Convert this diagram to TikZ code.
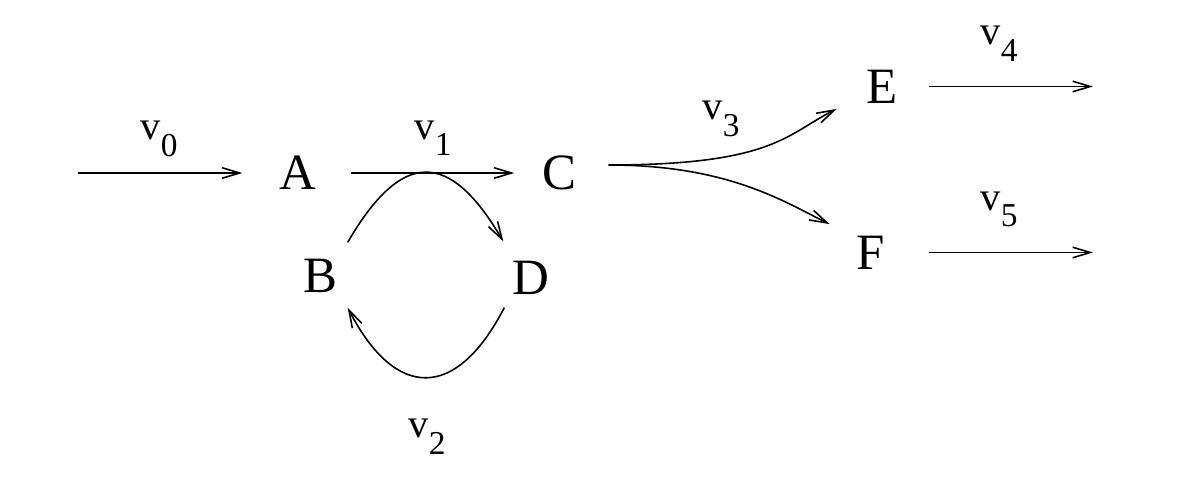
\documentclass[tikz,border=0pt]{standalone}
\usepackage{fontspec}
\setmainfont{Liberation Serif}
\usetikzlibrary{arrows.meta}
\newcommand{\vsub}[1]{v\raisebox{-0.17cm}{\fontsize{9.5}{11}\selectfont #1}}

\begin{document}
\begin{tikzpicture}[
  state/.style={inner sep=0pt,font=\fontsize{14.5}{17}\selectfont},
  lab/.style={inner sep=0pt,anchor=base west,font=\fontsize{11.5}{13}\selectfont},
  flow/.style={-{Straight Barb[length=5pt,width=3pt]},line width=0.45pt}]
\useasboundingbox (0,0) rectangle (12,4.96);
\node[state] (a) at (2.975,3.23) {A};
\node[state] (b) at (3.20,2.205) {B};
\node[state] (c) at (5.59,3.23) {C};
\node[state] (d) at (5.305,2.185) {D};
\node[state] (e) at (8.82,4.095) {E};
\node[state] (f) at (8.705,2.435) {F};
\coordinate (in0) at (0.78,3.23);
\coordinate (out4) at (10.93,4.095);
\coordinate (out5) at (10.93,2.435);
\draw [flow,shorten >=0.36cm] (in0) -- (a);
\draw [flow,shorten <=0.34cm,shorten >=0.27cm] (a) -- (c);
\draw [flow] ([shift={(0.10,0.157)}]b.north east) .. controls +(0.54,0.93) and +(-0.54,0.92) .. ([shift={(-0.081,0.186)}]d.north west);
\draw [flow] ([shift={(-0.071,-0.127)}]d.south west) .. controls +(-0.48,-0.93) and +(0.48,-0.93) .. ([shift={(0.10,-0.147)}]b.south east);
\draw [flow] ([shift={(0.32,0.08)}]c.east) .. controls +(1.65,0) and +(-0.50,-0.25) .. ([shift={(-0.29,-0.05)}]e.south west);
\draw [flow] ([shift={(0.32,0.08)}]c.east) .. controls +(1.20,0) and +(-0.45,0.22) .. ([shift={(-0.26,0.11)}]f.north west);
\draw [flow,shorten <=0.305cm] (e) -- (out4);
\draw [flow,shorten <=0.434cm] (f) -- (out5);
\node[lab] (v0) at (1.40,3.56) {\vsub{0}};
\node[lab] (v1) at (4.14,3.57) {\vsub{1}};
\node[lab] (v2) at (4.08,0.59) {\vsub{2}};
\node[lab] (v3) at (7.02,3.76) {\vsub{3}};
\node[lab] (v4) at (9.80,4.51) {\vsub{4}};
\node[lab] (v5) at (9.80,2.86) {\vsub{5}};
\end{tikzpicture}
\end{document}
